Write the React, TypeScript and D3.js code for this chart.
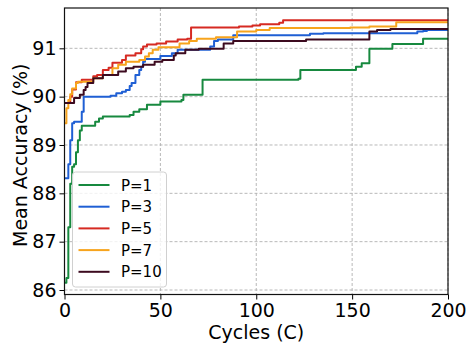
import React, { useEffect, useRef } from 'react';
import * as d3 from 'd3';

const width = 474;
const height = 353;

const xTicks = [0, 50, 100, 150, 200];
const yTicks = [86, 87, 88, 89, 90, 91];

const seriesNames = ['P=1', 'P=3', 'P=5', 'P=7', 'P=10'];
const seriesColors = ['#17893f', '#1f5fd4', '#d62a22', '#f7a41d', '#3c0a1f'];

// [cycle, mean accuracy] at each cycle where the accuracy changes
const p1Steps: [number, number][] = [
    [0, 86.15], [1, 86.25], [2, 87.3], [3, 88.2], [4, 88.55], [5, 88.6], [6, 88.85],
    [7, 89.1], [8, 89.3], [9, 89.4], [16, 89.48], [18, 89.55], [20, 89.59], [34, 89.62],
    [36, 89.69], [39, 89.74], [43, 89.83], [50, 89.9], [61, 89.93], [62, 90.04],
    [72, 90.35], [122, 90.37], [123, 90.55], [152, 90.62], [155, 90.69], [159, 90.99],
    [171, 91.09], [187, 91.2], [200, 91.2],
];
const p3Steps: [number, number][] = [
    [0, 88.31], [2, 88.6], [3, 89.1], [4, 89.45], [5, 89.48], [9, 89.69], [10, 90.0],
    [24, 90.02], [27, 90.07], [30, 90.1], [32, 90.14], [34, 90.22], [35, 90.28],
    [37, 90.45], [39, 90.55], [40, 90.62], [41, 90.72], [42, 90.78], [50, 90.84],
    [56, 90.9], [59, 90.97], [76, 91.04], [78, 91.15], [80, 91.18], [88, 91.27],
    [128, 91.3], [135, 91.31], [184, 91.35], [187, 91.36], [189, 91.38], [200, 91.38],
];
const p5Steps: [number, number][] = [
    [0, 89.87], [3, 90.0], [4, 90.15], [6, 90.3], [9, 90.35], [15, 90.42], [17, 90.45],
    [20, 90.55], [23, 90.6], [25, 90.7], [30, 90.76], [32, 90.85], [37, 90.9],
    [40, 90.98], [41, 91.04], [43, 91.08], [48, 91.1], [53, 91.14], [59, 91.18],
    [64, 91.2], [66, 91.43], [91, 91.45], [98, 91.47], [102, 91.5], [112, 91.53],
    [114, 91.58], [200, 91.58],
];
const p7Steps: [number, number][] = [
    [0, 89.45], [1, 89.76], [2, 89.93], [3, 90.05], [4, 90.17], [6, 90.28], [7, 90.31],
    [15, 90.38], [20, 90.45], [25, 90.59], [28, 90.66], [32, 90.72], [39, 90.76],
    [42, 90.83], [44, 90.9], [46, 90.97], [49, 91.02], [60, 91.1], [65, 91.15],
    [69, 91.2], [79, 91.23], [90, 91.35], [100, 91.38], [107, 91.42], [149, 91.43],
    [159, 91.45], [173, 91.54], [200, 91.54],
];
const p10Steps: [number, number][] = [
    [0, 89.87], [5, 89.97], [8, 90.04], [10, 90.14], [11, 90.2], [12, 90.28],
    [15, 90.38], [20, 90.45], [28, 90.52], [32, 90.59], [36, 90.62], [41, 90.66],
    [47, 90.72], [51, 90.76], [57, 90.85], [58, 90.9], [63, 90.97], [70, 90.99],
    [83, 91.1], [88, 91.15], [126, 91.18], [159, 91.35], [163, 91.38], [170, 91.4],
    [200, 91.4],
];

const allSteps = [p1Steps, p3Steps, p5Steps, p7Steps, p10Steps];

const AccuracyChart: React.FC = () => {
    const svgRef = useRef<SVGSVGElement | null>(null);

    useEffect(() => {
        document.body.style.margin = '0';
        const svg = d3.select(svgRef.current);
        svg.selectAll('*').remove();
        svg.attr('width', width).attr('height', height);

        const margin = { top: 8, right: 26, bottom: 58.5, left: 64.5 };
        const innerW = width - margin.left - margin.right;
        const innerH = height - margin.top - margin.bottom;
        const font = 'DejaVu Sans, sans-serif';

        const xScale = d3.scaleLinear().domain([0, 200]).range([0, innerW]);
        const yScale = d3.scaleLinear().domain([85.907, 91.834]).range([innerH, 0]);

        svg.append('rect').attr('width', width).attr('height', height).attr('fill', '#fff');

        const g = svg.append('g').attr('transform', `translate(${margin.left},${margin.top})`);

        svg.append('defs')
            .append('clipPath')
            .attr('id', 'plotClip')
            .append('rect')
            .attr('width', innerW)
            .attr('height', innerH);

        // dashed grid
        g.append('g')
            .selectAll('line')
            .data(xTicks)
            .join('line')
            .attr('x1', (d) => xScale(d))
            .attr('x2', (d) => xScale(d))
            .attr('y1', 0)
            .attr('y2', innerH)
            .attr('stroke', '#b0b0b0')
            .attr('stroke-width', 0.9)
            .attr('stroke-dasharray', '3,2');
        g.append('g')
            .selectAll('line')
            .data(yTicks)
            .join('line')
            .attr('x1', 0)
            .attr('x2', innerW)
            .attr('y1', (d) => yScale(d))
            .attr('y2', (d) => yScale(d))
            .attr('stroke', '#b0b0b0')
            .attr('stroke-width', 0.9)
            .attr('stroke-dasharray', '3,2');

        const line = d3
            .line<[number, number]>()
            .x((d) => xScale(d[0]))
            .y((d) => yScale(d[1]))
            .curve(d3.curveStepAfter);

        const lines = g.append('g').attr('clip-path', 'url(#plotClip)');
        allSteps.forEach((steps, i) => {
            lines
                .append('path')
                .datum(steps)
                .attr('d', line)
                .attr('fill', 'none')
                .attr('stroke', seriesColors[i])
                .attr('stroke-width', 2)
                .attr('stroke-linejoin', 'round');
        });

        // axes
        const xAxis = g
            .append('g')
            .attr('transform', `translate(0,${innerH})`)
            .call(d3.axisBottom(xScale).tickValues(xTicks).tickSize(5).tickPadding(4).tickFormat(d3.format('d')));
        const yAxis = g
            .append('g')
            .call(d3.axisLeft(yScale).tickValues(yTicks).tickSize(5).tickPadding(3).tickFormat(d3.format('d')));
        [xAxis, yAxis].forEach((ax) => {
            ax.select('.domain').remove();
            ax.selectAll('.tick line').attr('stroke', '#000').attr('stroke-width', 1);
            ax.selectAll('.tick text')
                .attr('fill', '#000')
                .style('font-family', font)
                .style('font-size', '19px');
        });

        // frame
        g.append('rect')
            .attr('width', innerW)
            .attr('height', innerH)
            .attr('fill', 'none')
            .attr('stroke', '#111')
            .attr('stroke-width', 1.2);

        svg.append('text')
            .attr('x', margin.left + innerW / 2)
            .attr('y', 339)
            .attr('text-anchor', 'middle')
            .style('font-family', font)
            .style('font-size', '19px')
            .text('Cycles (C)');

        svg.append('text')
            .attr('transform', `translate(27,${margin.top + innerH / 2 + 4}) rotate(-90)`)
            .attr('text-anchor', 'middle')
            .style('font-family', font)
            .style('font-size', '19px')
            .text('Mean Accuracy (%)');

        // legend
        const legend = svg.append('g').attr('transform', 'translate(72.5,172)');
        legend
            .append('rect')
            .attr('width', 94)
            .attr('height', 115)
            .attr('rx', 3)
            .attr('fill', '#fff')
            .attr('fill-opacity', 0.8)
            .attr('stroke', '#d0d0d0')
            .attr('stroke-width', 1);
        seriesNames.forEach((name, i) => {
            const y = 13 + i * 21.7;
            legend
                .append('line')
                .attr('x1', 6)
                .attr('x2', 37)
                .attr('y1', y)
                .attr('y2', y)
                .attr('stroke', seriesColors[i])
                .attr('stroke-width', 2);
            legend
                .append('text')
                .attr('x', 48.5)
                .attr('y', y + 5.5)
                .style('font-family', font)
                .style('font-size', '15px')
                .text(name);
        });
    }, []);

    return <svg ref={svgRef} style={{ display: 'block' }}></svg>;
};

export default function App() {
    return <AccuracyChart />;
}
